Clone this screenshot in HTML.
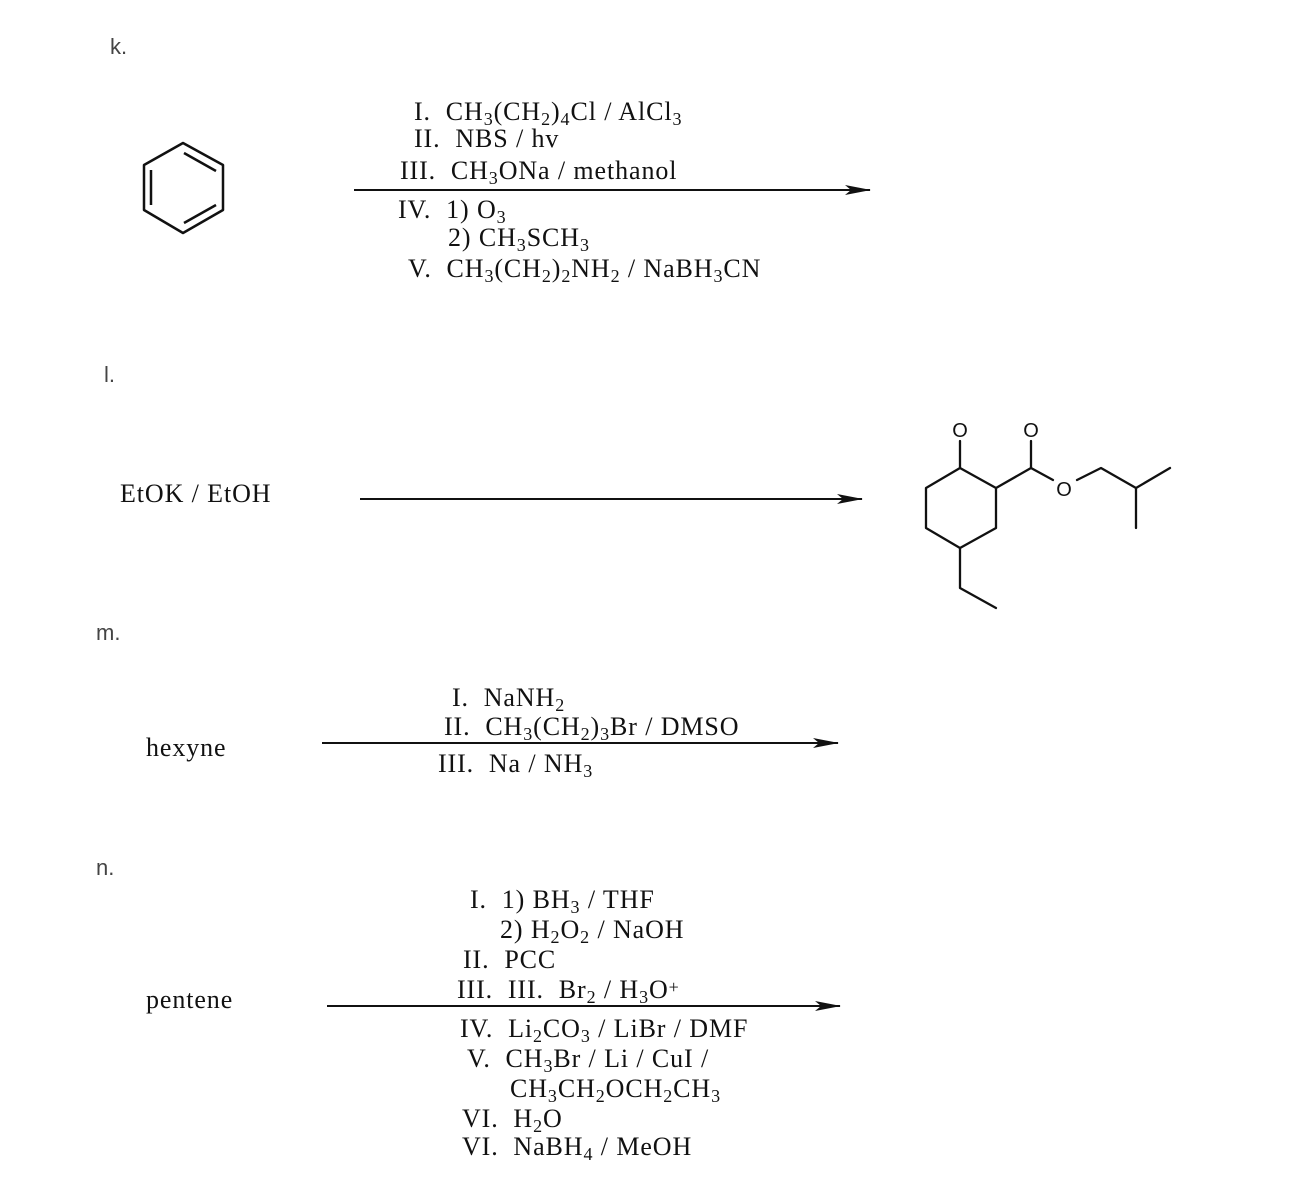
<!DOCTYPE html>
<html><head><meta charset="utf-8"><style>
html,body{margin:0;padding:0;background:#fff;}
svg{display:block;}
.t{font-family:"Liberation Serif",serif;font-size:26px;fill:#111;white-space:pre;letter-spacing:0.9px;}
.s{font-size:18px;}
.lab{font-family:"Liberation Sans",sans-serif;font-size:22px;fill:#444;}
</style></head><body>
<svg width="1301" height="1203" viewBox="0 0 1301 1203" xmlns="http://www.w3.org/2000/svg" xml:space="preserve">
<defs><marker id="ah" markerWidth="26" markerHeight="12" refX="25" refY="6" orient="auto" markerUnits="userSpaceOnUse"><path d="M0,1 L26,6 L0,11 L6,6 Z" fill="#111"/></marker></defs>
<text class="lab" x="110" y="54">k.</text>
<text class="lab" x="104" y="382">l.</text>
<text class="lab" x="96" y="640">m.</text>
<text class="lab" x="96" y="875">n.</text>

<g stroke="#111" stroke-width="2.5" fill="none" stroke-linejoin="round">
<polygon points="183,143 223,165 223,210 183,233 144,210 144,165"/>
<line x1="184" y1="153" x2="216" y2="171"/>
<line x1="216" y1="205" x2="184" y2="223"/>
<line x1="151" y1="170" x2="151" y2="205"/>
</g>

<line x1="354" y1="190" x2="870" y2="190" stroke="#111" stroke-width="2" marker-end="url(#ah)"/>
<text class="t" x="414" y="120">I.  CH<tspan class="s" dy="5">3</tspan><tspan dy="-5">(CH</tspan><tspan class="s" dy="5">2</tspan><tspan dy="-5">)</tspan><tspan class="s" dy="5">4</tspan><tspan dy="-5">Cl / AlCl</tspan><tspan class="s" dy="5">3</tspan></text>
<text class="t" x="414" y="147">II.  NBS / hv</text>
<text class="t" x="400" y="179">III.  CH<tspan class="s" dy="5">3</tspan><tspan dy="-5">ONa / methanol</tspan></text>
<text class="t" x="398" y="218">IV.  1) O<tspan class="s" dy="5">3</tspan></text>
<text class="t" x="448" y="246">2) CH<tspan class="s" dy="5">3</tspan><tspan dy="-5">SCH</tspan><tspan class="s" dy="5">3</tspan></text>
<text class="t" x="408" y="277">V.  CH<tspan class="s" dy="5">3</tspan><tspan dy="-5">(CH</tspan><tspan class="s" dy="5">2</tspan><tspan dy="-5">)</tspan><tspan class="s" dy="5">2</tspan><tspan dy="-5">NH</tspan><tspan class="s" dy="5">2</tspan><tspan dy="-5"> / NaBH</tspan><tspan class="s" dy="5">3</tspan><tspan dy="-5">CN</tspan></text>

<text class="t" x="120" y="502">EtOK / EtOH</text>
<line x1="360" y1="499" x2="862" y2="499" stroke="#111" stroke-width="2" marker-end="url(#ah)"/>
<g stroke="#111" stroke-width="2.3" fill="none" stroke-linejoin="round" stroke-linecap="round">
<polyline points="960,468 996,488 996,528 960,548 926,528 926,488 960,468"/>
<line x1="960" y1="468" x2="960" y2="441"/>
<line x1="996" y1="488" x2="1031" y2="468"/>
<line x1="1031" y1="468" x2="1031" y2="441"/>
<line x1="1031" y1="468" x2="1053" y2="480"/>
<polyline points="1077,480 1101,468 1136,488 1170,468"/>
<line x1="1136" y1="488" x2="1136" y2="528"/>
<polyline points="960,548 960,588 996,608"/>
</g>
<g font-family="Liberation Sans,sans-serif" font-size="20" fill="#111" text-anchor="middle">
<text x="960" y="437">O</text>
<text x="1031" y="437">O</text>
<text x="1064" y="496">O</text>
</g>

<text class="t" x="146" y="756">hexyne</text>
<line x1="322" y1="743" x2="838" y2="743" stroke="#111" stroke-width="2" marker-end="url(#ah)"/>
<text class="t" x="452" y="706">I.  NaNH<tspan class="s" dy="5">2</tspan></text>
<text class="t" x="444" y="735">II.  CH<tspan class="s" dy="5">3</tspan><tspan dy="-5">(CH</tspan><tspan class="s" dy="5">2</tspan><tspan dy="-5">)</tspan><tspan class="s" dy="5">3</tspan><tspan dy="-5">Br / DMSO</tspan></text>
<text class="t" x="438" y="772">III.  Na / NH<tspan class="s" dy="5">3</tspan></text>

<text class="t" x="146" y="1008">pentene</text>
<line x1="327" y1="1006" x2="840" y2="1006" stroke="#111" stroke-width="2" marker-end="url(#ah)"/>
<text class="t" x="470" y="908">I.  1) BH<tspan class="s" dy="5">3</tspan><tspan dy="-5"> / THF</tspan></text>
<text class="t" x="500" y="938">2) H<tspan class="s" dy="5">2</tspan><tspan dy="-5">O</tspan><tspan class="s" dy="5">2</tspan><tspan dy="-5"> / NaOH</tspan></text>
<text class="t" x="463" y="968">II.  PCC</text>
<text class="t" x="457" y="998">III.  III.  Br<tspan class="s" dy="5">2</tspan><tspan dy="-5"> / H</tspan><tspan class="s" dy="5">3</tspan><tspan dy="-5">O</tspan><tspan class="s" dy="-5">+</tspan></text>
<text class="t" x="460" y="1037">IV.  Li<tspan class="s" dy="5">2</tspan><tspan dy="-5">CO</tspan><tspan class="s" dy="5">3</tspan><tspan dy="-5"> / LiBr / DMF</tspan></text>
<text class="t" x="467" y="1067">V.  CH<tspan class="s" dy="5">3</tspan><tspan dy="-5">Br / Li / CuI /</tspan></text>
<text class="t" x="510" y="1097">CH<tspan class="s" dy="5">3</tspan><tspan dy="-5">CH</tspan><tspan class="s" dy="5">2</tspan><tspan dy="-5">OCH</tspan><tspan class="s" dy="5">2</tspan><tspan dy="-5">CH</tspan><tspan class="s" dy="5">3</tspan></text>
<text class="t" x="462" y="1127">VI.  H<tspan class="s" dy="5">2</tspan><tspan dy="-5">O</tspan></text>
<text class="t" x="462" y="1155">VI.  NaBH<tspan class="s" dy="5">4</tspan><tspan dy="-5"> / MeOH</tspan></text>
</svg>
</body></html>
